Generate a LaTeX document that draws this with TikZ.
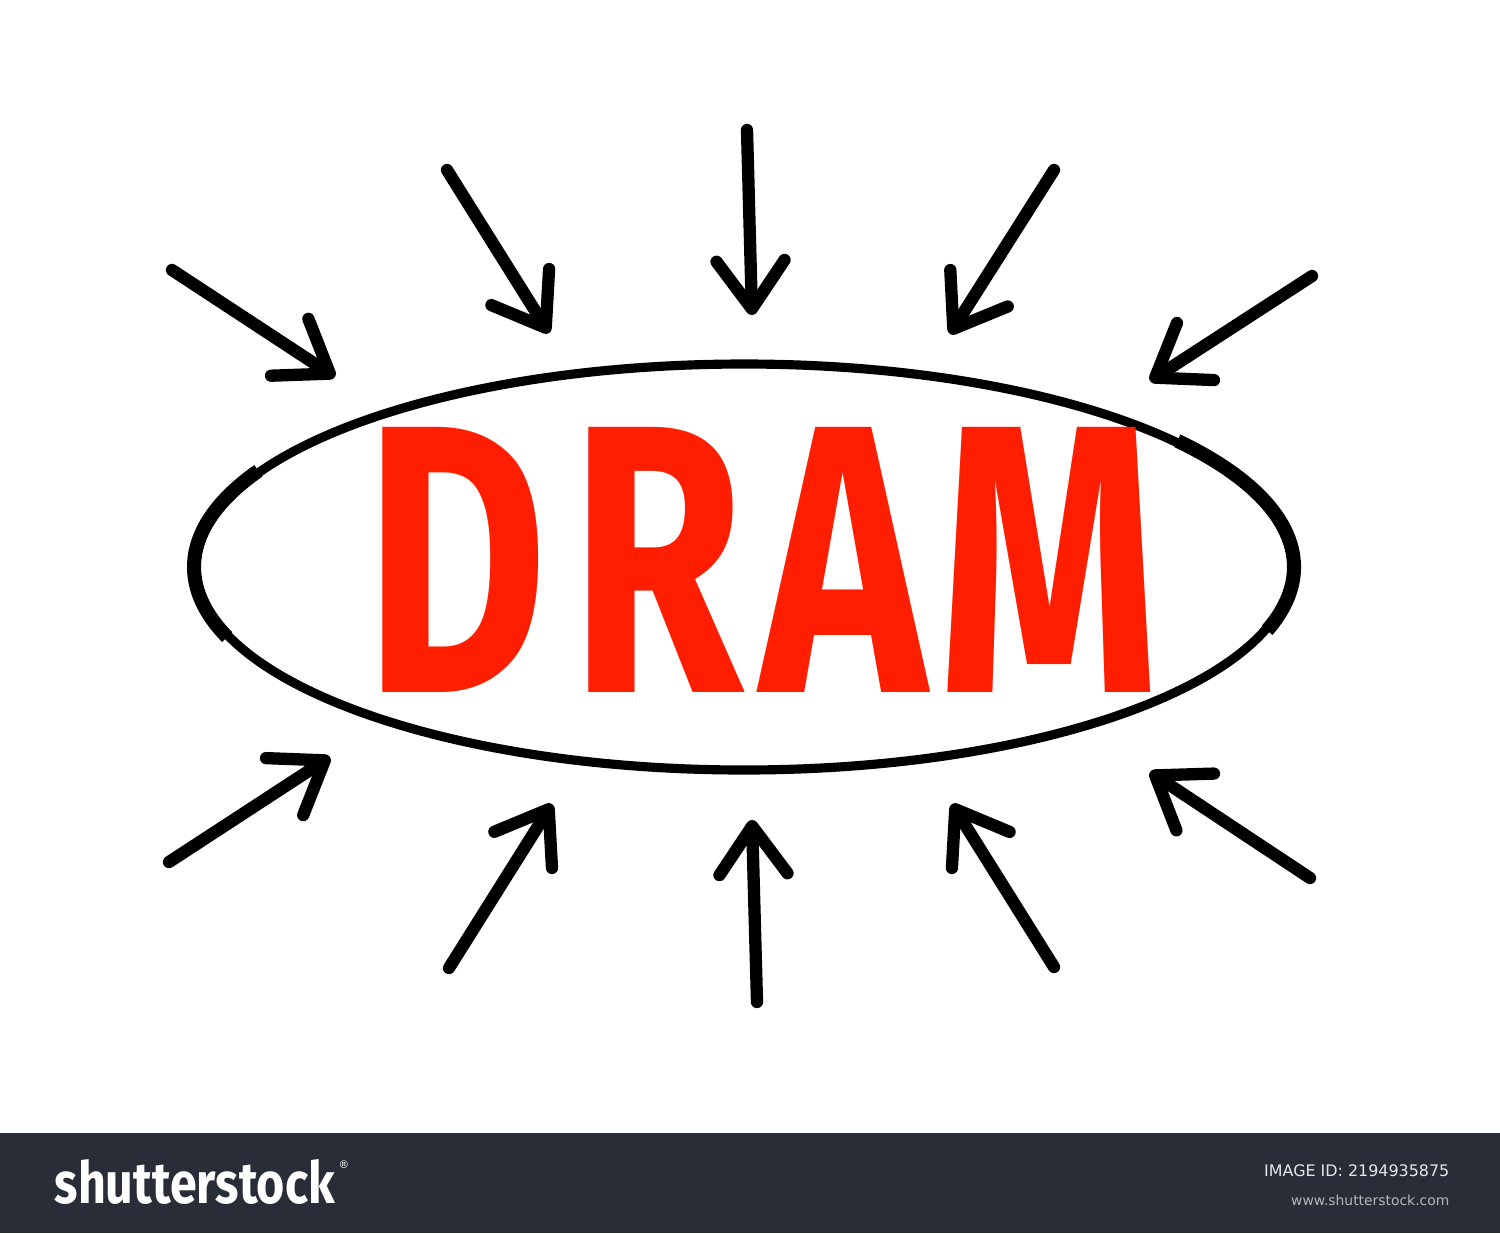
\documentclass[tikz,border=0pt]{standalone}
\usepackage{fontspec}
\setmainfont{DejaVu Sans}
\newfontfamily\dramfont{Fira Sans}
\newfontfamily\logofont{Fira Sans}
\usetikzlibrary{arrows.meta}
\definecolor{dramred}{HTML}{FF1E00}
\definecolor{barbg}{HTML}{282D38}
\definecolor{idgray}{HTML}{E6E6E8}
\definecolor{urlgray}{HTML}{B4B6BA}
\tikzset{
  inarrow/.style={line width=3.5pt, line cap=round, line join=round,
    -{Straight Barb[length=0.48cm,width=0.68cm,line cap=round,line join=round]}},
  ring/.style={draw=black, line width=2.6pt},
  ringthick/.style={draw=black, line width=4pt}
}
\begin{document}
\begin{tikzpicture}[x=0.01cm,y=-0.01cm]
\useasboundingbox (0,0) rectangle (1500,1233);
\fill[white] (0,0) rectangle (1500,1233);
% ellipse
\coordinate (oc) at (744,567);
\draw[ring] (oc) ellipse [x radius=548, y radius=203];
\draw[ringthick] ([shift={(oc)}]160:550 and 205) arc[start angle=160, end angle=208, x radius=550, y radius=205];
\draw[ringthick] ([shift={(oc)}]-38:550 and 205) arc[start angle=-38, end angle=18, x radius=550, y radius=205];
% text
\node[text=dramred, inner sep=0pt] (dram) at (762,560)
  {\resizebox{7.95cm}{2.65cm}{\dramfont\bfseries D\kern0.08em R\kern0.06em A\kern0.04em M}};
% arrow coordinates
\coordinate (s1) at (172,270);  \coordinate (t1) at (335,377);
\coordinate (s2) at (447,170);  \coordinate (t2) at (549,333);
\coordinate (s3) at (747,130);  \coordinate (t3) at (752,315);
\coordinate (s4) at (1054,170); \coordinate (t4) at (950,334);
\coordinate (s5) at (1312,276); \coordinate (t5) at (1150,381);
\coordinate (s6) at (169,862);  \coordinate (t6) at (330,757);
\coordinate (s7) at (449,968);  \coordinate (t7) at (552,804);
\coordinate (s8) at (757,1002); \coordinate (t8) at (752,820);
\coordinate (s9) at (1054,967); \coordinate (t9) at (952,804);
\coordinate (s10) at (1310,878);\coordinate (t10) at (1150,772);
\foreach \i in {1,...,10} \draw[inarrow] (s\i) -- (t\i);
% bottom bar
\fill[barbg] (0,1133) rectangle (1500,1233);
\node[text=white, anchor=west, inner sep=0pt] (logo) at (54,1182)
  {\resizebox{2.8cm}{0.44cm}{\logofont\bfseries shutterstock}};
\node[text=white, anchor=west, inner sep=0pt] (reg) at (338,1165)
  {\fontsize{3}{3}\selectfont\textregistered};
\node[text=idgray, anchor=east, inner sep=0pt] (imgid) at (1450,1171)
  {\resizebox{1.85cm}{!}{IMAGE ID: 2194935875}};
\node[text=urlgray, anchor=east, inner sep=0pt] (url) at (1450,1200)
  {\resizebox{1.58cm}{!}{www.shutterstock.com}};
\end{tikzpicture}
\end{document}
